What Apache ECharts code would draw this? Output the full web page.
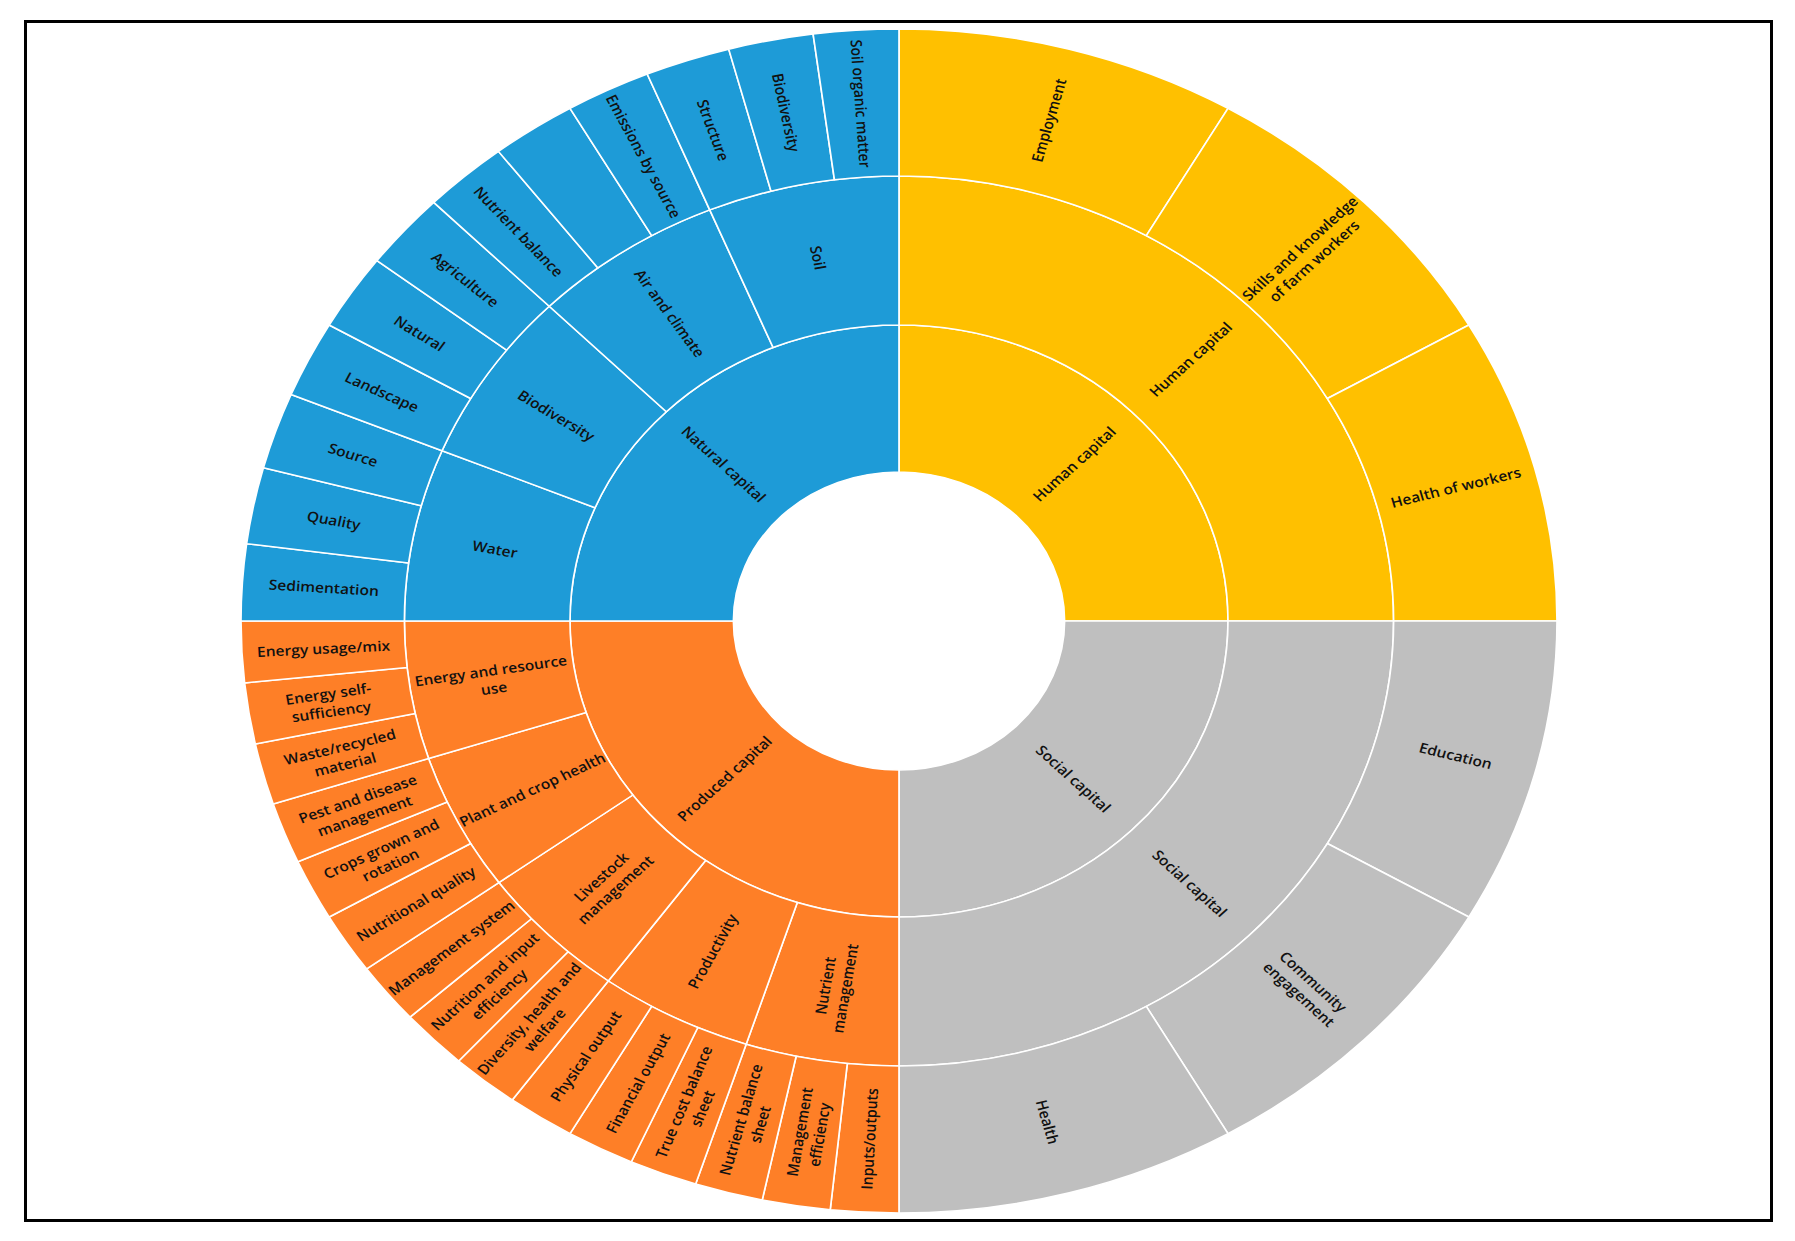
<!DOCTYPE html>
<html>
<head>
<meta charset="utf-8">
<title>Capitals sunburst</title>
<script src="https://cdn.jsdelivr.net/npm/echarts@6/dist/echarts.min.js"></script>
<style>
    html, body { margin: 0; padding: 0; background: #fff; }
    body { width: 1795px; height: 1241px; position: relative; overflow: hidden; }
    #frame {
        position: absolute; left: 24px; top: 20px;
        width: 1743px; height: 1196px;
        border: 3px solid #000;
    }
    #chart {
        position: absolute; left: 299px; top: 21px;
        width: 1200px; height: 1200px;
        transform: scaleX(1.1115);
        transform-origin: 50% 50%;
    }
</style>
</head>
<body>
<div id="frame"></div>
<div id="chart"></div>
<script>
    // 四大资本，顺时针从正上方开始
    const capitals = ['Human capital', 'Social capital', 'Produced capital', 'Natural capital']

    const humanThemes = ['Human capital']
    const humanLeaves = [['Employment', 'Skills and knowledge\nof farm workers', 'Health of workers']]
    const humanValues = [[5, 5, 5]]

    const socialThemes = ['Social capital']
    const socialLeaves = [['Education', 'Community\nengagement', 'Health']]
    const socialValues = [[5, 5, 5]]

    const producedThemes = ['Nutrient\nmanagement', 'Productivity', 'Livestock\nmanagement',
        'Plant and crop health', 'Energy and resource\nuse']
    const producedLeaves = [
        ['Inputs/outputs', 'Management\nefficiency', 'Nutrient balance\nsheet'],
        ['True cost balance\nsheet', 'Financial output', 'Physical output'],
        ['Diversity, health and\nwelfare', 'Nutrition and input\nefficiency', 'Management system'],
        ['Nutritional quality', 'Crops grown and\nrotation', 'Pest and disease\nmanagement'],
        ['Waste/recycled\nmaterial', 'Energy self-\nsufficiency', 'Energy usage/mix']
    ]
    const producedValues = [[1, 1, 1], [1, 1, 1], [1, 1, 1], [1, 1, 1], [1, 1, 1]]

    const naturalThemes = ['Water', 'Biodiversity', 'Air and climate', 'Soil']
    const naturalLeaves = [
        ['Sedimentation', 'Quality', 'Source'],
        ['Landscape', 'Natural', 'Agriculture'],
        ['Nutrient balance', '', 'Emissions by source'],
        ['Structure', 'Biodiversity', 'Soil organic matter']
    ]
    const naturalValues = [[1.25, 1.25, 1.25], [1.25, 1.25, 1.25], [1.25, 1.25, 1.25], [1.25, 1.25, 1.25]]

    const capitalColors = ['#FFC000', '#BFBFBF', '#FE7F27', '#1E9BD7']

    // 整个分支用同一个颜色，子节点也要单独写 color，否则会取调色盘
    function buildCapital(name, themes, leaves, values, color) {
        return {
            name: name,
            itemStyle: { color: color },
            children: themes.map((theme, i) => ({
                name: theme,
                itemStyle: { color: color },
                children: leaves[i].map((leaf, j) => ({
                    name: leaf,
                    value: values[i][j],
                    itemStyle: { color: color }
                }))
            }))
        }
    }

    const data = [
        buildCapital(capitals[0], humanThemes, humanLeaves, humanValues, capitalColors[0]),
        buildCapital(capitals[1], socialThemes, socialLeaves, socialValues, capitalColors[1]),
        buildCapital(capitals[2], producedThemes, producedLeaves, producedValues, capitalColors[2]),
        buildCapital(capitals[3], naturalThemes, naturalLeaves, naturalValues, capitalColors[3])
    ]

    const chart = echarts.init(document.getElementById('chart'), null, { renderer: 'svg' })
    chart.setOption({
        animation: false,
        series: [{
            type: 'sunburst',
            center: ['50%', '50%'],
            startAngle: 90,
            sort: null,
            nodeClick: false,
            data: data,
            itemStyle: {
                borderColor: '#fff',
                borderWidth: 1.5
            },
            label: {
                rotate: 'radial',
                color: '#111',
                fontFamily: 'Open Sans',
                fontWeight: 600,
                fontSize: 14,
                lineHeight: 18
            },
            emphasis: { focus: 'none' },
            levels: [
                {},
                { r0: 149, r: 296 },
                { r0: 296, r: 445 },
                { r0: 445, r: 592 }
            ]
        }]
    })
</script>
</body>
</html>
